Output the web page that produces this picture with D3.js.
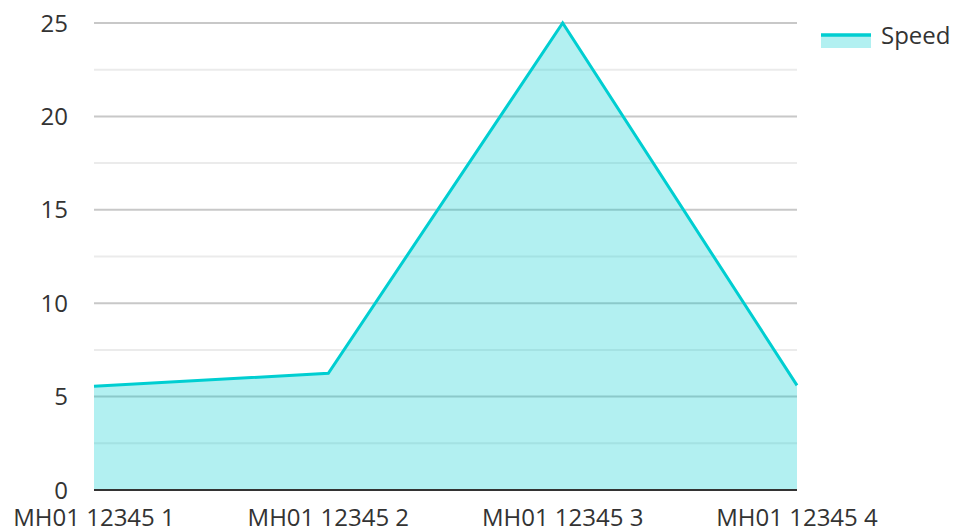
<!DOCTYPE html>
<html>
<head>
<meta charset="utf-8">
<script src="https://cdn.jsdelivr.net/npm/d3@7"></script>
<style>
  body { margin: 0; background: #fff; }
  text { font-family: "Open Sans", "Noto Sans", sans-serif; fill: #333; }
</style>
</head>
<body>
<div id="chart"></div>
<script>
// data
var categories = ["MH01 12345 1", "MH01 12345 2", "MH01 12345 3", "MH01 12345 4"];
var speed = [5.55, 6.25, 25, 5.6];
var yTicks = [0, 5, 10, 15, 20, 25];
var yMinor = [2.5, 7.5, 12.5, 17.5, 22.5];
var seriesName = "Speed";

var width = 954, height = 531;
var plotLeft = 94, plotRight = 797, plotTop = 23, plotBottom = 490;
var color = "#00ced1";

var svg = d3.select("#chart").append("svg")
    .attr("width", width)
    .attr("height", height);

var x = d3.scalePoint().domain(categories).range([plotLeft, plotRight]);
var y = d3.scaleLinear().domain([0, 25]).range([plotBottom, plotTop]);

// grid
svg.append("g").selectAll("line")
    .data(yMinor)
    .enter().append("line")
    .attr("x1", plotLeft).attr("x2", plotRight)
    .attr("y1", function(d) { return y(d); })
    .attr("y2", function(d) { return y(d); })
    .attr("stroke", "#ebebeb")
    .attr("stroke-width", 2);

svg.append("g").selectAll("line")
    .data(yTicks.filter(function(d) { return d > 0; }))
    .enter().append("line")
    .attr("x1", plotLeft).attr("x2", plotRight)
    .attr("y1", function(d) { return y(d); })
    .attr("y2", function(d) { return y(d); })
    .attr("stroke", "#c8c8c8")
    .attr("stroke-width", 2);

var pts = categories.map(function(c, i) { return {c: c, v: speed[i]}; });

var area = d3.area()
    .x(function(d) { return x(d.c); })
    .y0(y(0))
    .y1(function(d) { return y(d.v); });

var line = d3.line()
    .x(function(d) { return x(d.c); })
    .y(function(d) { return y(d.v); });

svg.append("path")
    .datum(pts)
    .attr("d", area)
    .attr("fill", color)
    .attr("fill-opacity", 0.3);

svg.append("path")
    .datum(pts)
    .attr("d", line)
    .attr("fill", "none")
    .attr("stroke", color)
    .attr("stroke-width", 3)
    .attr("stroke-linejoin", "miter");

// baseline
svg.append("line")
    .attr("x1", plotLeft).attr("x2", plotRight)
    .attr("y1", y(0)).attr("y2", y(0))
    .attr("stroke", "#333")
    .attr("stroke-width", 2);

// y labels
svg.append("g").selectAll("text")
    .data(yTicks)
    .enter().append("text")
    .attr("x", 68)
    .attr("y", function(d) { return y(d); })
    .attr("dy", "0.36em")
    .attr("text-anchor", "end")
    .style("font-size", "24px")
    .text(function(d) { return d; });

// x labels
svg.append("g").selectAll("text")
    .data(categories)
    .enter().append("text")
    .attr("x", function(d) { return x(d); })
    .attr("y", 526)
    .attr("text-anchor", "middle")
    .style("font-size", "24px")
    .text(function(d) { return d; });

// legend
var lg = svg.append("g");
lg.append("rect")
    .attr("x", 821).attr("y", 35)
    .attr("width", 50).attr("height", 13)
    .attr("fill", color).attr("fill-opacity", 0.3);
lg.append("line")
    .attr("x1", 821).attr("x2", 871)
    .attr("y1", 35).attr("y2", 35)
    .attr("stroke", color).attr("stroke-width", 3.5);
lg.append("text")
    .attr("x", 881).attr("y", 44)
    .style("font-size", "24px")
    .text(seriesName);
</script>
</body>
</html>
